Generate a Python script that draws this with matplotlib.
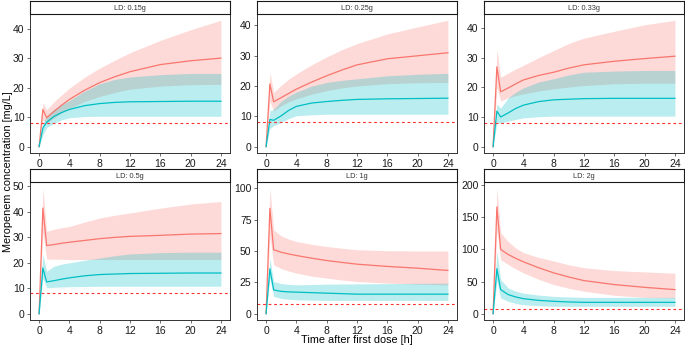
import numpy as np
import matplotlib
matplotlib.use("Agg")
import matplotlib.pyplot as plt

plt.rcParams['font.family'] = ['Liberation Sans', 'DejaVu Sans']

# ---------------------------------------------------------------------------
# data
# ---------------------------------------------------------------------------
time_h = [0, 0.5, 1, 2, 3, 4, 6, 8, 10, 12, 16, 20, 24]
panel_titles = ["LD: 0.15g", "LD: 0.25g", "LD: 0.33g", "LD: 0.5g", "LD: 1g", "LD: 2g"]

red_med = [
    [0, 12.6, 9.8, 12.0, 14.1, 16.0, 19.1, 21.7, 23.7, 25.4, 27.8, 29.1, 30.0],
    [0, 20.7, 14.8, 16.2, 17.6, 19.0, 21.3, 23.4, 25.3, 27.0, 29.0, 30.0, 31.0],
    [0, 26.9, 18.5, 19.8, 21.2, 22.5, 24.0, 25.1, 26.5, 27.6, 28.8, 29.7, 30.5],
    [0, 41.5, 26.8, 27.2, 27.7, 28.1, 28.8, 29.5, 30.0, 30.4, 30.8, 31.3, 31.5],
    [0, 84.0, 51.0, 49.0, 47.6, 46.4, 44.3, 42.4, 40.9, 39.5, 37.7, 36.3, 34.5],
    [0, 166.0, 100.0, 92.0, 86.0, 80.7, 71.5, 63.5, 57.0, 51.5, 45.3, 41.0, 37.5],
]
red_lo = [
    [0, 9.0, 8.0, 9.8, 11.5, 13.0, 15.3, 17.0, 18.4, 19.5, 20.5, 21.0, 21.1],
    [0, 15.0, 11.8, 13.5, 14.8, 15.8, 17.3, 18.5, 19.4, 20.0, 20.8, 21.1, 21.2],
    [0, 20.0, 15.4, 16.5, 17.2, 17.8, 18.8, 19.5, 20.1, 20.6, 21.2, 21.4, 21.4],
    [0, 32.0, 21.5, 21.4, 21.4, 21.3, 21.3, 21.3, 21.3, 21.3, 21.3, 21.3, 21.3],
    [0, 62.0, 39.0, 36.0, 34.0, 32.4, 30.0, 28.4, 26.9, 25.7, 24.4, 23.6, 23.0],
    [0, 130.0, 84.0, 76.5, 69.5, 63.5, 53.5, 45.3, 39.5, 35.0, 28.6, 25.5, 24.5],
]
red_hi = [
    [0, 15.0, 12.5, 15.3, 17.6, 19.8, 23.5, 26.6, 29.3, 31.8, 36.0, 39.6, 42.8],
    [0, 24.5, 17.9, 20.3, 22.3, 24.0, 27.0, 29.6, 32.0, 34.0, 37.2, 39.5, 41.7],
    [0, 32.8, 23.4, 24.8, 26.2, 27.4, 30.0, 32.4, 34.8, 36.6, 38.9, 41.1, 42.6],
    [0, 49.3, 32.4, 33.2, 33.8, 34.3, 36.0, 37.6, 38.7, 39.6, 41.5, 43.1, 44.1],
    [0, 100.0, 66.8, 62.0, 59.5, 57.6, 55.3, 53.6, 52.2, 51.0, 50.2, 50.0, 50.0],
    [0, 195.0, 126.0, 112.0, 102.0, 95.0, 87.5, 82.0, 76.0, 71.5, 67.0, 65.0, 63.0],
]
cyan_med = [
    [0, 6.3, 8.3, 10.3, 11.6, 12.6, 13.9, 14.6, 15.0, 15.2, 15.3, 15.4, 15.4],
    [0, 9.0, 8.7, 10.2, 12.0, 13.3, 14.4, 14.9, 15.3, 15.6, 15.8, 15.9, 16.0],
    [0, 12.0, 10.0, 11.4, 12.9, 14.0, 15.2, 15.8, 16.0, 16.2, 16.3, 16.3, 16.3],
    [0, 18.0, 12.5, 13.0, 13.6, 14.1, 14.9, 15.4, 15.6, 15.8, 15.9, 16.0, 16.0],
    [0, 35.8, 19.0, 17.8, 17.4, 17.2, 16.8, 16.4, 16.0, 15.6, 15.6, 15.6, 15.6],
    [0, 70.0, 37.5, 29.7, 26.0, 23.4, 20.8, 19.3, 18.3, 17.7, 17.7, 17.7, 17.7],
]
cyan_lo = [
    [0, 4.0, 6.5, 8.0, 9.1, 9.8, 10.2, 10.3, 10.3, 10.3, 10.3, 10.3, 10.3],
    [0, 6.0, 6.9, 8.0, 9.3, 10.2, 10.5, 10.7, 10.7, 10.7, 10.7, 10.7, 10.7],
    [0, 8.0, 8.0, 8.6, 9.2, 9.7, 10.1, 10.3, 10.3, 10.3, 10.3, 10.3, 10.3],
    [0, 14.0, 10.2, 10.4, 10.5, 10.6, 10.7, 10.8, 10.8, 10.8, 10.8, 10.8, 10.8],
    [0, 28.4, 13.8, 12.2, 11.5, 11.1, 10.8, 10.6, 10.6, 10.6, 10.6, 10.6, 10.6],
    [0, 50.5, 24.5, 19.3, 16.0, 14.0, 12.5, 11.5, 11.5, 11.5, 11.5, 11.5, 11.5],
]
cyan_hi = [
    [0, 8.0, 10.5, 12.8, 14.3, 15.6, 18.8, 21.3, 22.8, 23.6, 24.4, 24.8, 24.8],
    [0, 11.8, 12.4, 15.0, 16.7, 18.0, 20.0, 21.2, 21.9, 22.4, 23.4, 23.9, 24.2],
    [0, 14.3, 13.0, 16.5, 18.4, 19.8, 21.8, 22.9, 24.2, 25.1, 25.5, 25.7, 25.7],
    [0, 23.2, 16.7, 18.7, 19.5, 20.0, 21.0, 21.9, 22.8, 23.5, 24.0, 24.2, 24.2],
    [0, 44.3, 25.7, 24.0, 23.4, 23.0, 23.3, 23.6, 23.7, 23.8, 24.0, 24.2, 24.4],
    [0, 97.0, 53.0, 40.0, 35.0, 32.0, 29.0, 27.0, 26.0, 25.5, 25.5, 25.5, 25.5],
]
y_ticks = [
    [0, 10, 20, 30, 40],
    [0, 10, 20, 30, 40],
    [0, 10, 20, 30, 40],
    [0, 10, 20, 30, 40, 50],
    [0, 25, 50, 75, 100],
    [0, 50, 100, 150, 200],
]
x_ticks = [0, 4, 8, 12, 16, 20, 24]
mic = 8

RED = "#F8766D"
CYAN = "#00BFC4"

# ---------------------------------------------------------------------------
# layout in pixels (685 x 351)
# ---------------------------------------------------------------------------
W, H = 685, 351
fig = plt.figure(figsize=(W / 100, H / 100), dpi=100)

col_x = [(30, 230), (257, 457), (484, 684)]
row_y = [(14, 153), (182, 320)]
strip_h = 13

for i in range(6):
    r, c = divmod(i, 3)
    x0, x1 = col_x[c]
    y0, y1 = row_y[r]
    ax = fig.add_axes([x0 / W, 1 - y1 / H, (x1 - x0) / W, (y1 - y0) / H])

    ax.fill_between(time_h, red_lo[i], red_hi[i], color=RED, alpha=0.27, lw=0)
    ax.fill_between(time_h, cyan_lo[i], cyan_hi[i], color=CYAN, alpha=0.27, lw=0)
    ax.plot(time_h, red_med[i], color=RED, lw=0.9)
    ax.plot(time_h, cyan_med[i], color=CYAN, lw=0.9)
    ax.margins(x=0.05, y=0.05)
    ax.axhline(mic, color="#FF3030", lw=0.8, ls=(0, (2.5, 2.5)))

    ax.set_xticks(x_ticks)
    ax.set_yticks(y_ticks[i])
    ax.tick_params(labelsize=7.5, length=2.5, width=0.5, color="#333333",
                   labelcolor="#1a1a1a", pad=1.5)
    for sp in ax.spines.values():
        sp.set_color("#333333")
        sp.set_linewidth(0.7)

    # facet strip
    sax = fig.add_axes([x0 / W, 1 - y0 / H, (x1 - x0) / W, strip_h / H])
    sax.set_xticks([])
    sax.set_yticks([])
    for sp in sax.spines.values():
        sp.set_color("#1a1a1a")
        sp.set_linewidth(0.8)
    sax.text(0.5, 0.45, panel_titles[i], ha="center", va="center",
             fontsize=5.3, color="#333333", transform=sax.transAxes)

fig.text(357 / W, 1 - 340 / H, "Time after first dose [h]", ha="center",
         va="center", fontsize=7.8)
fig.text(8 / W, 1 - 172 / H, "Meropenem concentration [mg/L]", ha="center",
         va="center", rotation=90, fontsize=7.8)

fig.savefig("out.png", dpi=100)
